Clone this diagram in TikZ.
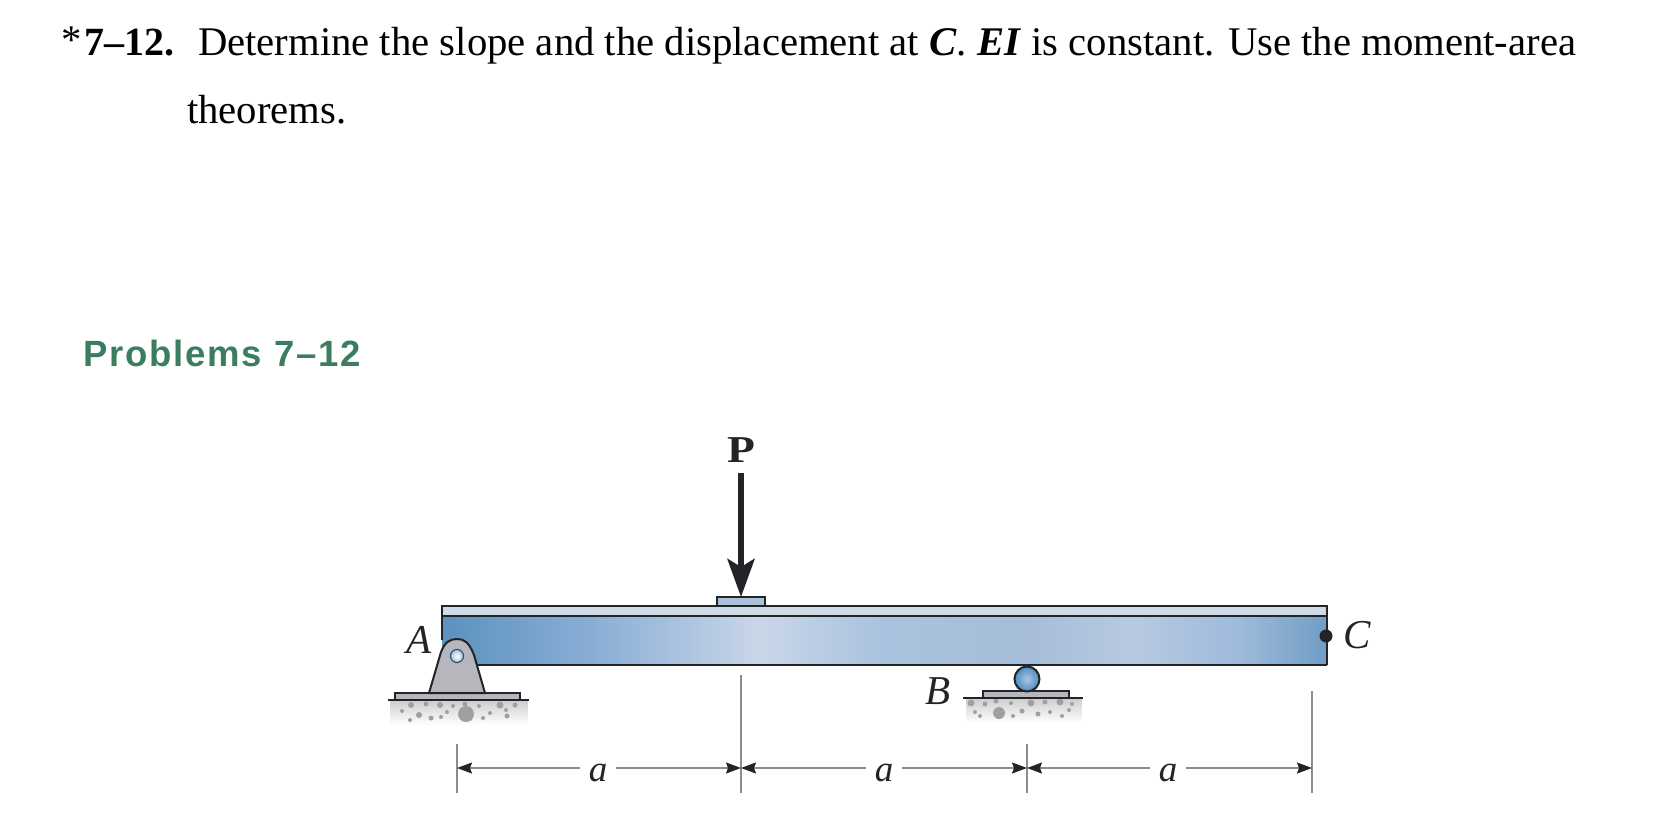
\documentclass[tikz,border=0pt]{standalone}
\usepackage{fontspec}
\setmainfont{Liberation Serif}
\newfontfamily\headsans{Liberation Sans}[LetterSpace=5]
\usetikzlibrary{arrows.meta,fadings}
\definecolor{inkc}{HTML}{222427}
\definecolor{greenh}{HTML}{3A7D5F}
\definecolor{topplate}{HTML}{CFDBE6}
\definecolor{loadplate}{HTML}{A9C1DB}
\definecolor{steelg}{HTML}{B6B7BD}
\definecolor{soilg}{HTML}{CFCFCF}
\definecolor{soild}{HTML}{A0A0A0}
\definecolor{ballo}{HTML}{4F8CBF}
\definecolor{balli}{HTML}{A6C6E2}
\definecolor{dimg}{HTML}{8C8C8C}
\pgfdeclarehorizontalshading{beamshade}{100bp}{
 rgb(0bp)=(0.36,0.57,0.75);
 rgb(25bp)=(0.36,0.57,0.75);
 rgb(34bp)=(0.55,0.69,0.84);
 rgb(43bp)=(0.79,0.84,0.91);
 rgb(50bp)=(0.66,0.76,0.87);
 rgb(58bp)=(0.65,0.74,0.85);
 rgb(64bp)=(0.72,0.79,0.88);
 rgb(70bp)=(0.62,0.73,0.86);
 rgb(75bp)=(0.44,0.62,0.77);
 rgb(100bp)=(0.44,0.62,0.77)}
\tikzset{
 txt/.style={anchor=base west,inner sep=0,outer sep=0,text=black,font=\fontsize{40.7}{40.7}\selectfont},
 lab/.style={inner sep=0,outer sep=0,text=inkc,font=\fontsize{41}{41}\selectfont\itshape},
 dimlab/.style={inner sep=0,outer sep=0,text=inkc,font=\fontsize{37}{37}\selectfont\itshape},
 outl/.style={draw=inkc,line width=2pt},
 tick/.style={draw=dimg,line width=1.6pt},
 dimline/.style={draw=dimg,line width=1.6pt,{Stealth[length=15pt,width=11pt,inset=2pt,fill=inkc,color=inkc]}-{Stealth[length=15pt,width=11pt,inset=2pt,fill=inkc,color=inkc]}},
 grain/.style={fill=soild,draw=none},
}
\begin{document}
\begin{tikzpicture}[x=1pt,y=-1pt]
\useasboundingbox (0,0) rectangle (1654,816);
% text
\node[txt] (star) at (61,54) {*};
\node[txt,font=\fontsize{40}{40}\selectfont\bfseries] (num) at (84,56) {7–12.};
\node[txt] (l1) at (198,56) {Determine the slope and the displacement at \textbf{\textit{C}}. \textbf{\textit{EI}} is constant. Use the moment-area};
\node[txt] (l2) at (187,123) {theorems.};
\node[anchor=base west,inner sep=0,text=greenh,font=\fontsize{36.5}{36.5}\selectfont\headsans\bfseries] (head) at (83,366) {Problems 7–12};
% ground A
\fill[soilg,path fading=south] (390,701) rectangle (528,725);
\foreach \x/\y/\r in {411/705/3,426/704/2.5,440/705/3,453/706/2,465/704/2.5,479/706/2,500/705/3.5,515/705/2.5,402/711/2,419/715/3,447/712/2,468/711/3,490/713/2,507/716/2.5,410/720/2,431/718/2.5,441/717/2,470/719/2,483/718/2,506/710/2}
 \fill[grain] (\x,\y) circle[radius=\r];
\fill[soild] (466,714) circle[radius=8];
\draw[outl,fill=steelg] (395,693) rectangle (520,700);
\draw[inkc,line width=2pt] (388,700) -- (529,700);
% ground B
\fill[soilg,path fading=south] (966,699) rectangle (1082,723);
\foreach \x/\y/\r in {971/703/3.5,985/704/2.5,996/701/2.5,1011/703/2,1031/703/3.5,1045/702/2.5,1060/702/3.5,1072/704/2,975/712/2,980/716/2,1013/716/2,1022/711/2.5,1038/714/2.5,1050/712/2,1069/710/2,1062/716/2}
 \fill[grain] (\x,\y) circle[radius=\r];
\fill[soild] (999,713) circle[radius=6];
\draw[outl,fill=steelg] (983,691) rectangle (1069,698);
\draw[inkc,line width=2pt] (963,698) -- (1083,698);
% beam
\path[shading=beamshade] (442,616) rectangle (1327,665);
\draw[outl,fill=topplate] (442,606) rectangle (1327,616);
\draw[outl] (442,616) -- (442,640) (442,665) -- (1327,665) (1327,665) -- (1327,616);
\draw[outl,fill=loadplate] (717,597) rectangle (765,606);
% support A
\draw[outl,fill=steelg] (429,693) -- (441,652) .. controls (445,642) and (450,639) .. (457,639) .. controls (464,639) and (469,642) .. (474,655) -- (485,693) -- cycle;
\shadedraw[draw=ballo!60!black,line width=1.2pt,inner color=white,outer color=loadplate] (457,656) circle[radius=6.5];
% roller B
\shadedraw[draw=inkc,line width=2pt,inner color=balli,outer color=ballo] (1027,679) circle[radius=12.5];
% dot C
\fill[inkc] (1326,636) circle[radius=6.5];
% load
\node[inner sep=0,text=inkc,font=\fontsize{38}{38}\selectfont\bfseries] (P) at (741.5,450) {\scalebox{1.2}[1]{P}};
\coordinate (loadtail) at (741,473);
\coordinate (loadtip) at (741,597);
\draw[inkc,line width=6pt,-{Stealth[length=38pt,width=27pt,inset=8pt,fill=inkc]}] (loadtail) -- (loadtip);
% labels
\node[lab] (A) at (419,640) {A};
\node[lab] (B) at (938,691) {B};
\node[lab] (C) at (1357,635) {C};
% dimensions
\coordinate (t1a) at (457,744); \coordinate (t1b) at (457,793);
\coordinate (t2a) at (741,675); \coordinate (t2b) at (741,793);
\coordinate (t3a) at (1027,744); \coordinate (t3b) at (1027,793);
\coordinate (t4a) at (1312,691); \coordinate (t4b) at (1312,793);
\draw[tick] (t1a) -- (t1b);
\draw[tick] (t2a) -- (t2b);
\draw[tick] (t3a) -- (t3b);
\draw[tick] (t4a) -- (t4b);
\coordinate (d1) at (457,768); \coordinate (d2) at (741,768);
\coordinate (d3) at (1027,768); \coordinate (d4) at (1312,768);
\draw[dimline] (d1) -- (d2);
\draw[dimline] (d2) -- (d3);
\draw[dimline] (d3) -- (d4);
\node[dimlab,fill=white,inner xsep=9pt,inner ysep=6pt] (a1) at (598,773) {a};
\node[dimlab,fill=white,inner xsep=9pt,inner ysep=6pt] (a2) at (884,773) {a};
\node[dimlab,fill=white,inner xsep=9pt,inner ysep=6pt] (a3) at (1168,773) {a};
\end{tikzpicture}
\end{document}
